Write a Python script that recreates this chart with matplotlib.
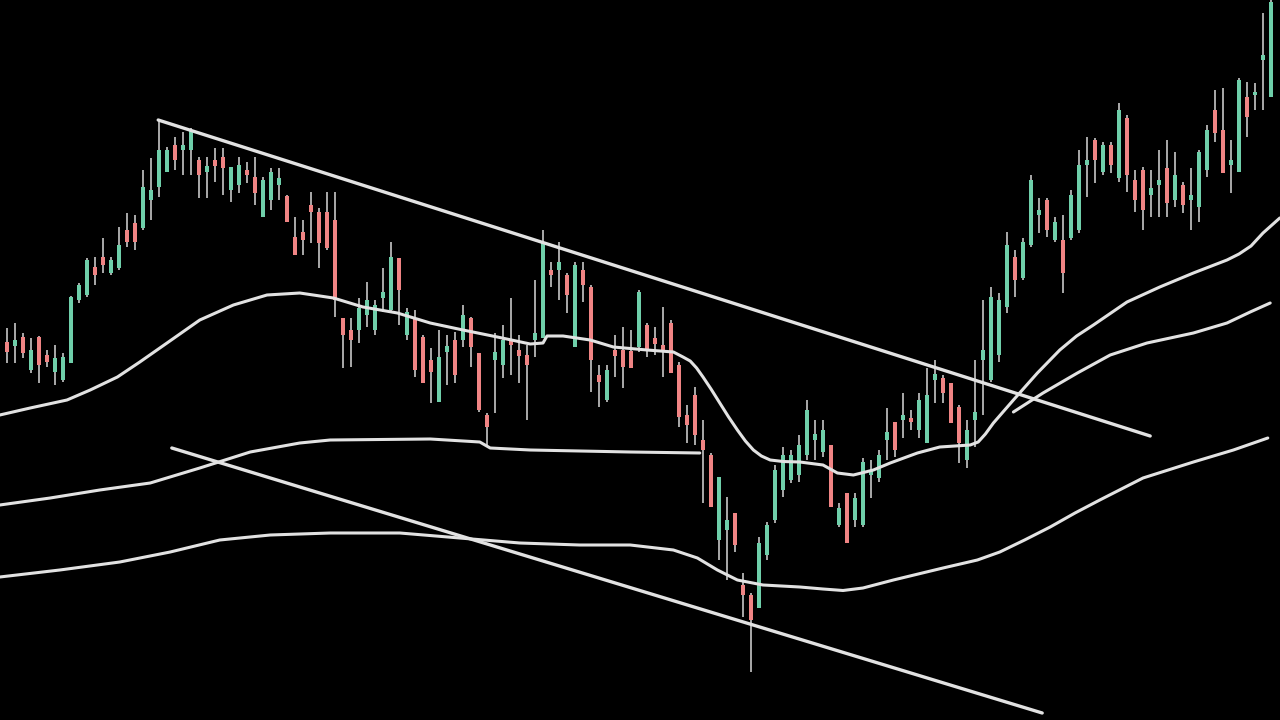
import numpy as np
import matplotlib

matplotlib.use("Agg")
import matplotlib.pyplot as plt  # noqa: E402

# candle prices (arbitrary units, one candle per bar)
open_ = [378, 374, 383, 350, 383, 365, 348, 340, 357, 420, 425, 453, 463, 447, 452, 490, 497, 492, 520, 533,
         548, 575, 570, 570, 560, 548, 560, 563, 530, 535, 550, 543, 503, 520, 535, 524, 483, 488, 515, 508,
         508, 500, 402, 390, 390, 405, 390, 422, 410, 462, 385, 402, 383, 360, 318, 368, 380, 380, 402, 367,
         305, 360, 355, 380, 370, 365, 380, 382, 450, 450, 445, 373, 450, 433, 345, 320, 370, 370, 369, 373,
         395, 382, 375, 397, 355, 305, 325, 280, 265, 180, 190, 207, 135, 125, 112, 165, 200, 230, 240, 245,
         265, 280, 268, 275, 195, 227, 200, 195, 245, 242, 280, 298, 300, 302, 290, 277, 340, 342, 337, 313,
         260, 300, 360, 340, 365, 413, 463, 442, 475, 505, 520, 480, 480, 482, 490, 555, 580, 548, 575, 542,
         602, 540, 550, 525, 535, 552, 520, 535, 520, 513, 550, 610, 590, 555, 548, 623, 625, 660, 623]
high = [392, 397, 387, 382, 384, 370, 375, 367, 424, 437, 462, 463, 482, 463, 493, 507, 505, 550, 562, 600,
        573, 583, 588, 592, 563, 563, 572, 572, 553, 563, 558, 563, 543, 552, 552, 525, 503, 500, 528, 512,
        528, 528, 402, 402, 422, 438, 420, 452, 478, 462, 412, 410, 385, 372, 390, 385, 388, 415, 403, 367,
        307, 387, 395, 422, 385, 375, 440, 490, 458, 478, 447, 458, 458, 435, 355, 355, 385, 393, 390, 430,
        397, 393, 413, 400, 358, 315, 333, 300, 267, 243, 223, 207, 147, 127, 183, 198, 255, 273, 270, 285,
        320, 300, 300, 275, 217, 227, 227, 262, 260, 270, 312, 298, 327, 310, 327, 352, 360, 345, 337, 315,
        300, 360, 420, 433, 427, 488, 470, 482, 545, 522, 522, 503, 505, 530, 570, 583, 582, 578, 578, 617,
        605, 550, 553, 550, 570, 580, 568, 538, 552, 570, 595, 630, 632, 580, 642, 638, 637, 707, 720]
low = [357, 357, 362, 347, 337, 353, 335, 338, 357, 417, 423, 435, 447, 445, 450, 473, 470, 490, 500, 523,
       548, 550, 545, 545, 522, 522, 538, 525, 518, 527, 537, 515, 503, 510, 520, 498, 465, 465, 477, 452,
       470, 403, 352, 353, 377, 393, 385, 408, 408, 395, 380, 343, 337, 317, 318, 335, 337, 373, 353, 308,
       273, 307, 342, 345, 337, 300, 363, 382, 433, 420, 407, 373, 418, 328, 313, 318, 343, 332, 352, 368,
       363, 365, 343, 347, 293, 277, 275, 217, 213, 160, 140, 168, 103, 48, 112, 160, 197, 223, 237, 238,
       260, 260, 263, 213, 193, 177, 193, 193, 222, 238, 260, 263, 282, 290, 282, 277, 317, 317, 297, 257,
       252, 273, 305, 338, 358, 407, 423, 440, 473, 487, 483, 478, 427, 480, 487, 523, 537, 545, 547, 538,
       528, 508, 490, 503, 503, 503, 513, 507, 490, 498, 543, 578, 547, 527, 548, 583, 610, 610, 623]
close = [368, 380, 367, 370, 355, 358, 362, 363, 423, 435, 460, 445, 455, 460, 475, 478, 478, 533, 530, 570,
         570, 560, 575, 590, 545, 554, 554, 552, 553, 555, 545, 527, 540, 548, 542, 498, 465, 480, 508, 477,
         472, 420, 385, 380, 412, 420, 415, 428, 463, 430, 408, 350, 337, 348, 363, 374, 345, 405, 373, 310,
         293, 368, 380, 375, 364, 355, 387, 477, 445, 458, 425, 455, 435, 360, 338, 350, 364, 353, 352, 428,
         370, 376, 368, 347, 303, 295, 285, 270, 213, 243, 200, 175, 125, 100, 177, 195, 250, 265, 265, 275,
         310, 286, 290, 213, 212, 177, 222, 258, 250, 265, 288, 270, 305, 298, 320, 325, 346, 327, 297, 277,
         290, 308, 370, 423, 420, 475, 440, 478, 540, 510, 490, 498, 447, 525, 555, 560, 560, 575, 555, 610,
         545, 520, 510, 532, 540, 517, 545, 515, 525, 568, 590, 587, 547, 560, 640, 603, 628, 665, 718]

# moving averages, sampled at bar positions
ma_fast_x = [-0.9, 2.9, 7.5, 10.4, 13.8, 16.6, 20, 24.1, 28.3, 32.5, 36.6, 40.8, 44.5, 48.8, 52.9, 57, 61.3,
             65.4, 67, 67.5, 69.5, 72.9, 75.8, 80, 83.3, 84.5, 85.4, 86.2, 87, 88, 89.1, 90.2, 91.3, 92.3,
             93.3, 94.3, 95.4, 97, 99.1, 102, 103.8, 105.8, 108.3, 110.4, 113.8, 116.6, 120.4, 121.4, 122.3,
             123.3, 125.8, 128.8, 131.6, 133.7, 135.8, 140, 144.1, 148.3, 152.5, 154, 155.5, 157, 159.1]
ma_fast = [305, 312, 320, 330, 343, 358, 377, 400, 415, 425, 427, 422, 413, 407, 397, 390, 383, 376, 377, 384,
           384, 380, 373, 370, 368, 363, 359, 352, 343, 331, 317, 303, 290, 279, 270, 264, 260, 258.5, 258,
           255, 247, 245, 250, 257, 267, 273, 275, 278, 286, 297, 320, 347, 370, 384, 395, 418, 433, 447, 460,
           466, 474, 487, 502]
ma_mid_x = [-0.9, 5.4, 11.6, 17.9, 24.1, 30.4, 36.6, 40.4, 52.9, 59.1, 60.4, 65.4, 77.9, 86.6,
            86.7, 125.7,
            125.8, 129.5, 133.8, 137.9, 142.5, 148.3, 152.5, 155.4, 157.9]
ma_mid = [215, 222, 230, 237, 252, 268, 277, 280, 281, 278, 272, 270, 268, 267,
          np.nan, np.nan,
          308, 327, 347, 365, 377, 387, 397, 408, 417]
ma_slow_x = [-0.9, 6.6, 14.1, 20.4, 26.6, 32.9, 40.4, 49.1, 56.6, 64.1, 71.6, 77.9, 83.3, 86.3, 88.8, 91.3,
             94.5, 99.1, 102, 104.5, 107, 110.8, 117, 121.3, 124.1, 127.2, 130.4, 133.5, 136.6, 142, 148.3,
             153.3, 157.6]
ma_slow = [143, 150, 158, 168, 180, 185, 187, 187, 182, 177, 175, 175, 170, 162, 150, 140, 135, 133, 131,
           129.5, 132, 140, 152, 160, 168, 180, 193, 207, 220, 242, 258, 270, 282]

# trend lines (bar, price) end points
upper_x, upper_y = [18.9, 142.9], [600, 284]
lower_x, lower_y = [20.6, 129.4], [272, 7]

GREEN = "#6fcfaa"
RED = "#f08484"
WICK = "#dcdcdc"
LINE = "#e2e2e2"

fig = plt.figure(figsize=(12.8, 7.2), dpi=100, facecolor="black")
ax = fig.add_axes([0, 0, 1, 1])
ax.set_facecolor("black")

x = np.arange(len(close))
o = np.array(open_, float)
c = np.array(close, float)
ax.vlines(x, low, high, color=WICK, lw=1.2, alpha=0.9, zorder=2)
up = c >= o
body = np.maximum(np.abs(c - o), 2)
ax.bar(x, body, bottom=np.minimum(o, c), width=0.4,
       color=np.where(up, GREEN, RED), edgecolor="none", zorder=3)

for xs, ys in ((ma_fast_x, ma_fast), (ma_mid_x, ma_mid), (ma_slow_x, ma_slow)):
    ax.plot(xs, ys, color=LINE, lw=2.2, solid_capstyle="round", solid_joinstyle="round", zorder=4)
for xs, ys in ((upper_x, upper_y), (lower_x, lower_y)):
    ax.plot(xs, ys, color=LINE, lw=2.4, solid_capstyle="round", zorder=4)

ax.set_xlim(-0.875, 159.125)
ax.set_ylim(0, 720)
ax.axis("off")

fig.savefig("out.png", dpi=100, facecolor="black")
